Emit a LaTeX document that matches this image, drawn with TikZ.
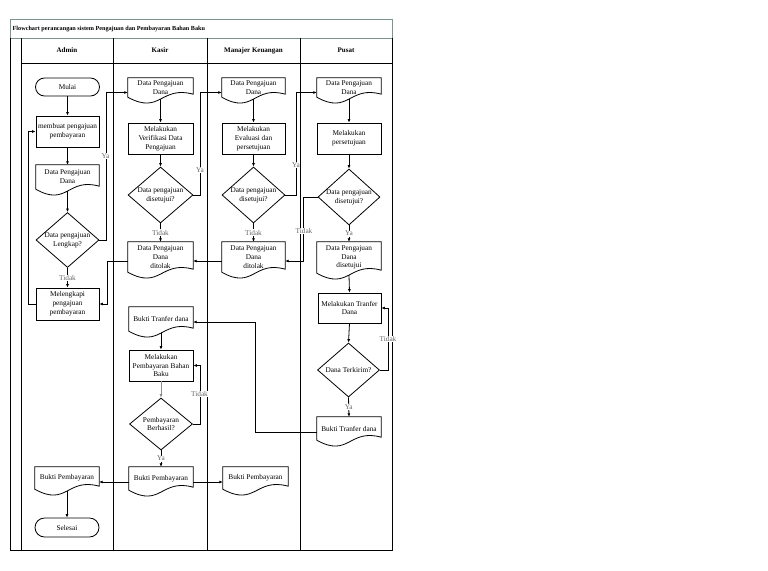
\documentclass[tikz,border=0pt]{standalone}
\usepackage{fontspec}
\setmainfont{Liberation Serif}
\usetikzlibrary{shapes.geometric,shapes.misc,arrows.meta,calc}
\newcommand\drawdoc[1]{\draw[ln] (#1.south west) -- (#1.north west) -- (#1.north east) -- ($(#1.south east)+(0,-3)$) .. controls ($(#1.south)+(0,-12)$) and ($(#1.south)+(0,18)$) .. (#1.south west) -- cycle;}
\begin{document}
\begin{tikzpicture}[x=1pt,y=-1pt,
  every node/.style={font=\fontsize{7.3}{8.8}\selectfont, inner sep=0pt},
  ln/.style={line width=0.8pt},
  arr/.style={line width=0.8pt, -{Latex[length=3.5pt,width=3pt]}},
  proc/.style={draw, line width=0.8pt, align=center},
  term/.style={draw, rounded rectangle, line width=0.8pt, minimum width=64pt, minimum height=18pt},
  dia/.style={draw, diamond, line width=0.8pt},
  diat/.style={align=center},
  docn/.style={align=center},
  lbl/.style={fill=white, text=black!60, inner sep=0.6pt},
  hdr/.style={font=\fontsize{7}{8}\selectfont\bfseries},
]
\useasboundingbox (0,0) rectangle (768,570);
% frame
\draw[line width=0.8pt, draw={rgb,255:red,125;green,150;blue,140}] (10,19.5) rectangle (392,38);
\node[hdr, font=\fontsize{6.2}{8}\selectfont\bfseries, anchor=west] (title) at (12.5,28.8) {Flowchart perancangan sistem Pengajuan dan Pembayaran Bahan Baku};
\draw[ln] (10,38) -- (10,550) -- (392,550) -- (392,38);
\draw[ln] (21,38) -- (21,550);
\draw[ln] (113,38) -- (113,550);
\draw[ln] (207,38) -- (207,550);
\draw[ln] (300,38) -- (300,550);
\draw[ln] (21,63) -- (392,63);
\node[hdr] (hadmin) at (67,50.5) {Admin};
\node[hdr] (hkasir) at (160,50.5) {Kasir};
\node[hdr] (hman) at (253.5,50.5) {Manajer Keuangan};
\node[hdr] (hpusat) at (346,50.5) {Pusat};

% Admin
\node[term] (mulai) at (67.5,87) {Mulai};
\node[proc, minimum width=63pt, minimum height=31pt] (membuat) at (67.5,131.5) {membuat pengajuan\\pembayaran};
\node[docn, minimum width=63pt, minimum height=24pt] (adoc1) at (67.5,177) {Data Pengajuan\\Dana};
\node[dia, minimum width=63pt, minimum height=55pt] (adia) at (67.5,240) {};
\node[diat] (adiat) at (adia) {Data pengajuan\\Lengkap?};
\node[proc, minimum width=63pt, minimum height=32pt] (melengkapi) at (67.5,304) {Melengkapi\\pengajuan\\pembayaran};
\node[docn, minimum width=64pt, minimum height=22pt] (adoc2) at (67,478) {Bukti Pembayaran};
\node[term, minimum height=19pt] (selesai) at (67,527.5) {Selesai};

% Kasir
\node[docn, minimum width=65pt, minimum height=19pt] (kdoc1) at (160.5,87.5) {Data Pengajuan\\Dana};
\node[proc, minimum width=65pt, minimum height=31pt] (kbox1) at (160.5,138.5) {Melakukan\\Verifikasi Data\\Pengajuan};
\node[dia, minimum width=65pt, minimum height=56pt] (kdia) at (160.5,195) {};
\node[diat] (kdiat) at (kdia) {Data pengajuan\\disetujui?};
\node[docn, minimum width=65pt, minimum height=30pt] (kdoc2) at (160.5,257) {Data Pengajuan\\Dana\\ditolak};
\node[docn, minimum width=64pt, minimum height=24pt] (kdoc3) at (161,319) {Bukti Tranfer dana};
\node[proc, minimum width=64pt, minimum height=31pt] (kbox2) at (161,365.5) {Melakukan\\Pembayaran Bahan\\Baku};
\node[dia, minimum width=63pt, minimum height=52pt] (kdia2) at (161,424) {};
\node[diat] (kdia2t) at (kdia2) {Pembayaran\\Berhasil?};
\node[docn, minimum width=64pt, minimum height=23pt] (kdoc4) at (161,478.5) {Bukti Pembayaran};

% Manajer
\node[docn, minimum width=63pt, minimum height=19pt] (mdoc1) at (253.5,87.5) {Data Pengajuan\\Dana};
\node[proc, minimum width=63pt, minimum height=31pt] (mbox) at (253.5,138.5) {Melakukan\\Evaluasi dan\\persetujuan};
\node[dia, minimum width=63pt, minimum height=56pt] (mdia) at (253.5,195) {};
\node[diat] (mdiat) at (mdia) {Data pengajuan\\disetujui?};
\node[docn, minimum width=63pt, minimum height=30pt] (mdoc2) at (253.5,257) {Data Pengajuan\\Dana\\ditolak};
\node[docn, minimum width=65pt, minimum height=22pt] (mdoc3) at (255.5,478) {Bukti Pembayaran};

% Pusat
\node[docn, minimum width=64pt, minimum height=19pt] (pdoc1) at (349,87.5) {Data Pengajuan\\Dana};
\node[proc, minimum width=64pt, minimum height=31pt] (pbox1) at (349,138.5) {Melakukan\\persetujuan};
\node[dia, minimum width=62pt, minimum height=56pt] (pdia) at (349,197) {};
\node[diat] (pdiat) at (pdia) {Data pengajuan\\disetujui?};
\node[docn, minimum width=64pt, minimum height=31pt] (pdoc2) at (349,257.5) {Data Pengajuan\\Dana\\disetujui};
\node[proc, minimum width=63pt, minimum height=30pt] (pbox2) at (349.5,308) {Melakukan Tranfer\\Dana};
\node[dia, minimum width=62pt, minimum height=54pt] (pdia2) at (348.5,370) {};
\node[diat] (pdia2t) at (pdia2) {Dana Terkirim?};
\node[docn, minimum width=64pt, minimum height=23pt] (pdoc3) at (349,428.5) {Bukti Tranfer dana};

\foreach \d in {adoc1,adoc2,kdoc1,kdoc2,kdoc3,kdoc4,mdoc1,mdoc2,mdoc3,pdoc1,pdoc2,pdoc3} {\drawdoc{\d}}

% connectors Admin
\draw[arr] (mulai.south) -- (membuat.north);
\draw[arr] (membuat.south) -- (adoc1.north);
\draw[arr] ($(adoc1.south)+(0,2)$) -- (adia.north);
\draw[arr] (adia.south) -- node[lbl] (t1) {Tidak} (melengkapi.north);
\draw[arr] (adia.east) -- ++(7,0) |- ([yshift=-5pt]kdoc1.west);
\node[lbl] (y1) at (105.5,156) {Ya};
\draw[arr] (melengkapi.west) -- ++(-7,0) |- (membuat.west);
\draw[arr] ($(adoc2.south)+(0,2)$) -- (selesai.north);

% Kasir
\draw[arr] ($(kdoc1.south)+(0,2)$) -- (kbox1.north);
\draw[arr] (kbox1.south) -- (kdia.north);
\draw[arr] (kdia.south) -- node[lbl] (t2) {Tidak} (kdoc2.north);
\draw[arr] (kdia.east) -- ++(7,0) |- ([yshift=-5pt]mdoc1.west);
\node[lbl] (y2) at (200,170) {Ya};
\draw[arr] ([yshift=-4pt]kdoc2.west) -- ++(-20,0) |- (melengkapi.east);
\draw[arr] ($(kdoc3.south)+(0,2)$) -- (kbox2.north);
\draw[arr, draw=black!45] (kbox2.south) -- (kdia2.north);
\draw[arr] (kdia2.east) -- ++(7,0) |- (kbox2.east);
\node[lbl] (t3) at (199.5,394) {Tidak};
\draw[arr] (kdia2.south) -- node[lbl] (y3) {Ya} (kdoc4.north);
\draw[arr] ([yshift=-3.5pt]kdoc4.west) -- ([yshift=-3.5pt]kdoc4.west -| adoc2.east);
\draw[arr] ([yshift=-3.5pt]kdoc4.east) -- ([yshift=-3.5pt]kdoc4.east -| mdoc3.west);

% Manajer
\draw[arr] ($(mdoc1.south)+(0,2)$) -- (mbox.north);
\draw[arr] (mbox.south) -- (mdia.north);
\draw[arr] (mdia.south) -- node[lbl] (t4) {Tidak} (mdoc2.north);
\draw[arr] (mdia.east) -- ++(10.5,0) |- ([yshift=-5pt]pdoc1.west);
\node[lbl] (y4) at (296,165) {Ya};
\draw[arr] ([yshift=-4pt]mdoc2.west) -- ([yshift=-4pt]kdoc2.east);

% Pusat
\draw[arr] ($(pdoc1.south)+(0,2)$) -- (pbox1.north);
\draw[arr] (pbox1.south) -- (pdia.north);
\draw[arr] (pdia.west) -- ++(-14,0) |- ([yshift=-4pt]mdoc2.east);
\node[lbl] (t5) at (304,231) {Tidak};
\draw[arr] (pdia.south) -- node[lbl] (y5) {Ya} (pdoc2.north);
\draw[arr] ($(pdoc2.south)+(0,2)$) -- (pbox2.north);
\draw[arr] (pbox2.south) -- (pdia2.north);
\draw[arr] (pdia2.east) -- ++(8.5,0) |- (pbox2.east);
\node[lbl] (t6) at (388,339) {Tidak};
\draw[arr] (pdia2.south) -- node[lbl] (y6) {Ya} (pdoc3.north);
\draw[arr] ([yshift=-4pt]pdoc3.west) -- ++(-61,0) |- ([yshift=-3pt]kdoc3.east);
\end{tikzpicture}
\end{document}
